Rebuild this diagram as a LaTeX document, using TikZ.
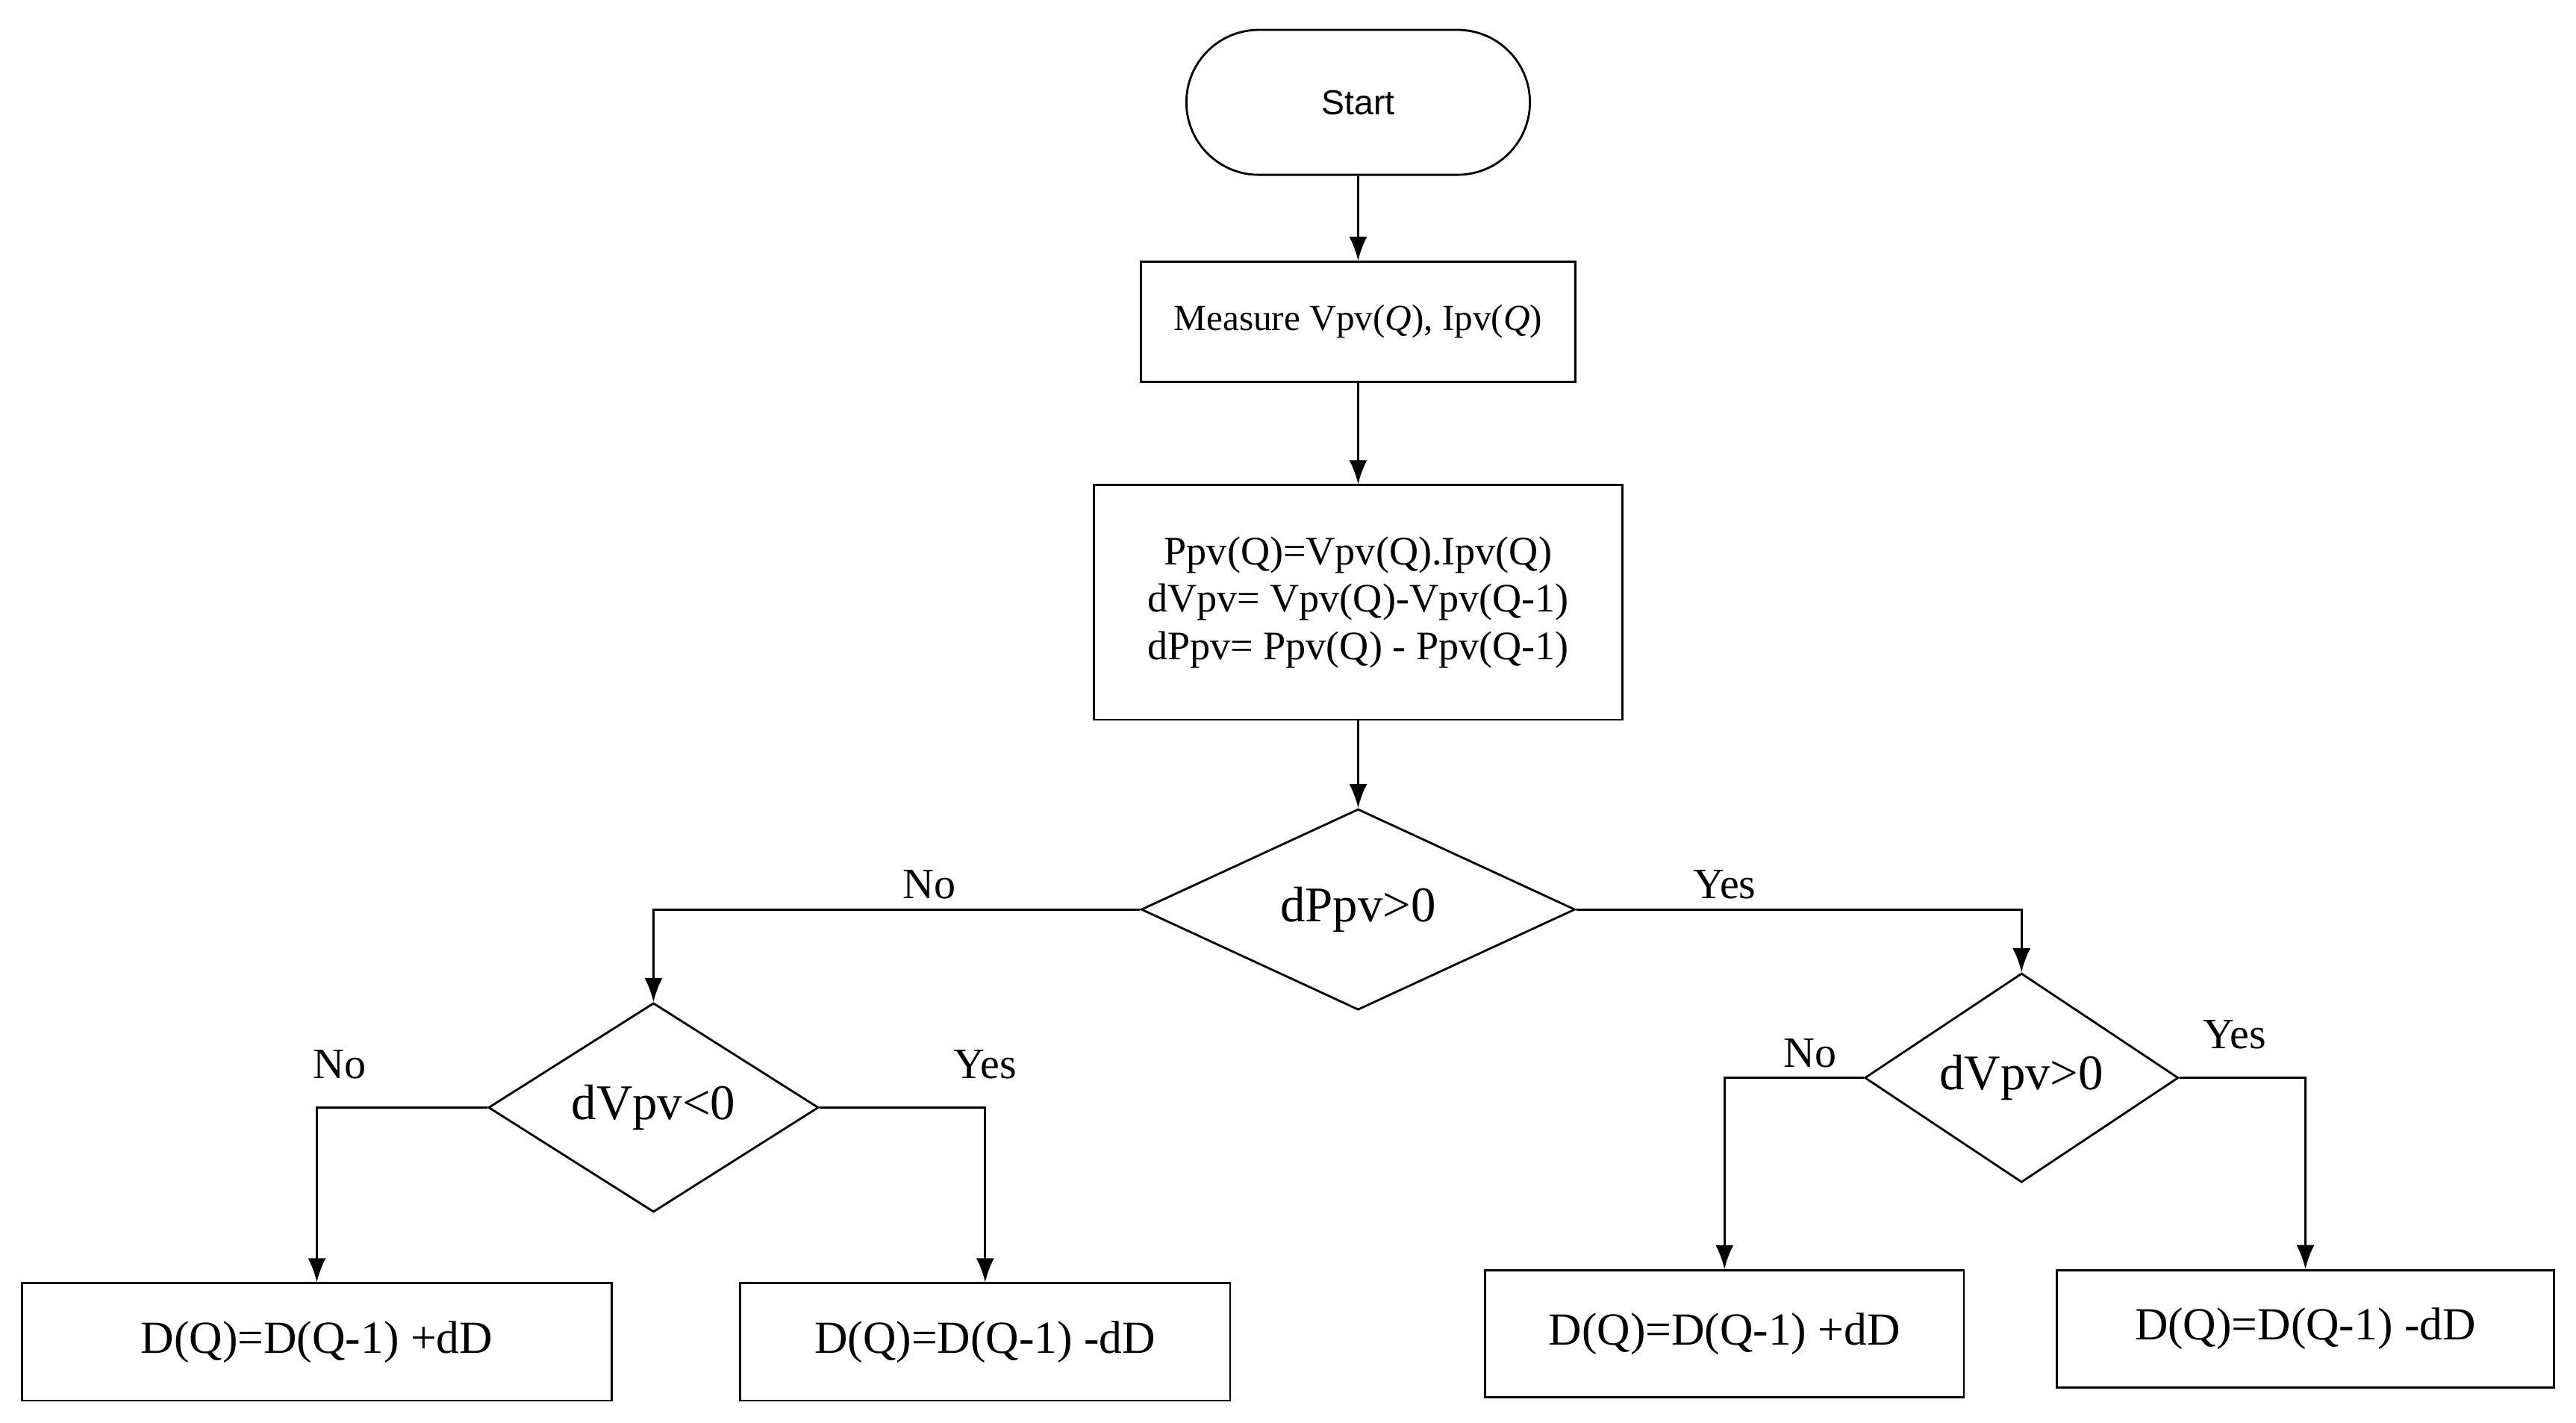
\documentclass[tikz,border=0pt]{standalone}
\usepackage{fontspec}
\setmainfont{Liberation Serif}
\newfontfamily\startfont{Liberation Sans}
\usetikzlibrary{shapes.geometric, arrows.meta}
\tikzset{box/.style = {draw, rectangle, line width=0.8pt, inner sep=2pt, align=center, font=\fontsize{17.5}{20}\selectfont}}
\tikzset{terminal/.style = {draw, rectangle, rounded corners=0.97cm, line width=0.8pt, minimum width=4.6cm, minimum height=1.94cm, font=\startfont\fontsize{13.2}{15}\selectfont}}
\tikzset{decision/.style = {draw, diamond, line width=0.8pt, inner sep=0pt, font=\fontsize{19}{21}\selectfont}}
\tikzset{lbl/.style = {font=\fontsize{16.5}{18}\selectfont}}

\begin{document}
\begin{tikzpicture}[x=0.0221cm, y=-0.0221cm, >={Latex[length=3.2mm,width=2.4mm]}, line width=0.8pt]
  \useasboundingbox (0,0) rectangle (1561,862);
  \begin{scope}[shift={(-3,-2)}]
  \node [terminal] (start) at (826,64) {Start};
  \node [box, minimum width=5.81cm, minimum height=1.61cm, font=\fontsize{14}{16}\selectfont] (meas) at (826,197) {Measure Vpv(\textit{Q}), Ipv(\textit{Q})};
  \node [box, minimum width=7.07cm, minimum height=3.14cm, font=\fontsize{15.4}{18}\selectfont] (calc) at (826,367) {Ppv(Q)=Vpv(Q).Ipv(Q)\\dVpv= Vpv(Q)-Vpv(Q-1)\\dPpv= Ppv(Q) - Ppv(Q-1)};
  \node [decision, minimum width=5.81cm, minimum height=2.56cm] (dp) at (826,553) {dPpv>0};
  \node [decision, minimum width=4.42cm, minimum height=2.34cm] (dvl) at (399,673) {dVpv<0};
  \node [decision, minimum width=4.2cm, minimum height=2.34cm] (dvr) at (1228,655) {dVpv>0};

  \node [box, minimum width=7.89cm, minimum height=1.57cm] (ll) at (195,815) {D(Q)=D(Q-1) +dD};
  \node [box, minimum width=6.56cm, minimum height=1.57cm] (lr) at (600,815) {D(Q)=D(Q-1) -dD};
  \node [box, minimum width=6.41cm, minimum height=1.70cm] (rl) at (1048,810) {D(Q)=D(Q-1) +dD};
  \node [box, minimum width=6.65cm, minimum height=1.57cm] (rr) at (1400,807) {D(Q)=D(Q-1) -dD};

  \draw[->] (start) -- (meas);
  \draw[->] (meas) -- (calc);
  \draw[->] (calc) -- (dp);
  \draw[->] (dp.west) -| (dvl.north);
  \draw[->] (dp.east) -| (dvr.north);
  \draw[->] (dvl.west) -| (ll.north);
  \draw[->] (dvl.east) -| (lr.north);
  \draw[->] (dvr.west) -| (rl.north);
  \draw[->] (dvr.east) -| (rr.north);

  \node [lbl] (n1) at (566,538) {No};
  \node [lbl] (y1) at (1048,538) {Yes};
  \node [lbl] (n2) at (209,647) {No};
  \node [lbl] (y2) at (600,647) {Yes};
  \node [lbl] (n3) at (1100,640) {No};
  \node [lbl] (y3) at (1357,629) {Yes};
  \end{scope}
\end{tikzpicture}
\end{document}
